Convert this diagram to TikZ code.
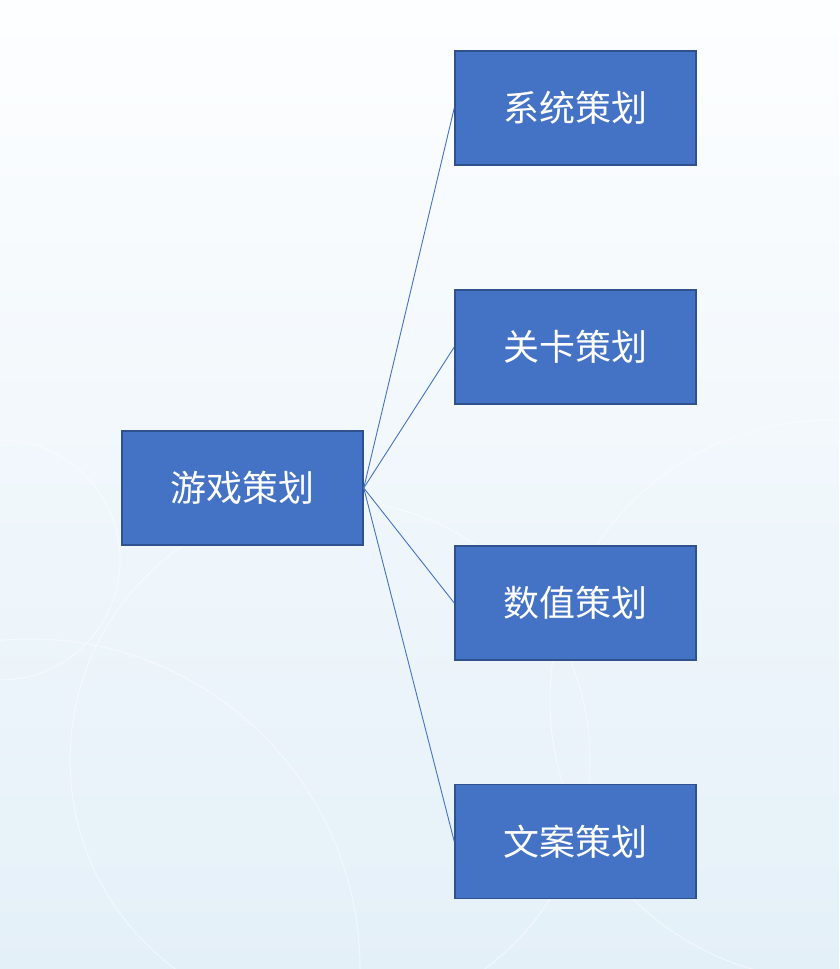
\documentclass[tikz,border=0pt]{standalone}
\usepackage{fontspec}
\newfontfamily\cjk{Noto Sans CJK SC}
\definecolor{boxfill}{HTML}{4472C4}
\definecolor{boxdraw}{HTML}{2F528F}
\definecolor{bgtop}{HTML}{FDFEFF}
\definecolor{bgbot}{HTML}{E4F0F8}
\begin{document}
\begin{tikzpicture}[x=1pt,y=-1pt,
  box/.style={draw=boxdraw,line width=1.5pt,fill=boxfill,minimum width=241pt,minimum height=114pt,inner sep=0pt,text=white,font=\cjk\fontsize{36}{40}\selectfont},
  link/.style={draw=boxfill,line width=0.9pt}]
\shade[top color=bgtop,bottom color=bgbot] (0,0) rectangle (839,969);
\useasboundingbox (0,0) rectangle (839,969);
\begin{scope}[draw=white,line width=1pt,opacity=0.5]
\draw (30,969) circle (330);
\draw (330,760) circle (260);
\draw (0,560) circle (120);
\draw (830,700) circle (280);
\end{scope}
\node[box] (root) at (242.5,488) {游戏策划};
\node[box] (a) at (575.5,108) {系统策划};
\node[box] (b) at (575.5,347) {关卡策划};
\node[box] (c) at (575.5,603) {数值策划};
\node[box] (d) at (575.5,841.5) {文案策划};
\foreach \n in {a,b,c,d} \draw[link] (root.east) -- (\n.west);
\end{tikzpicture}
\end{document}
